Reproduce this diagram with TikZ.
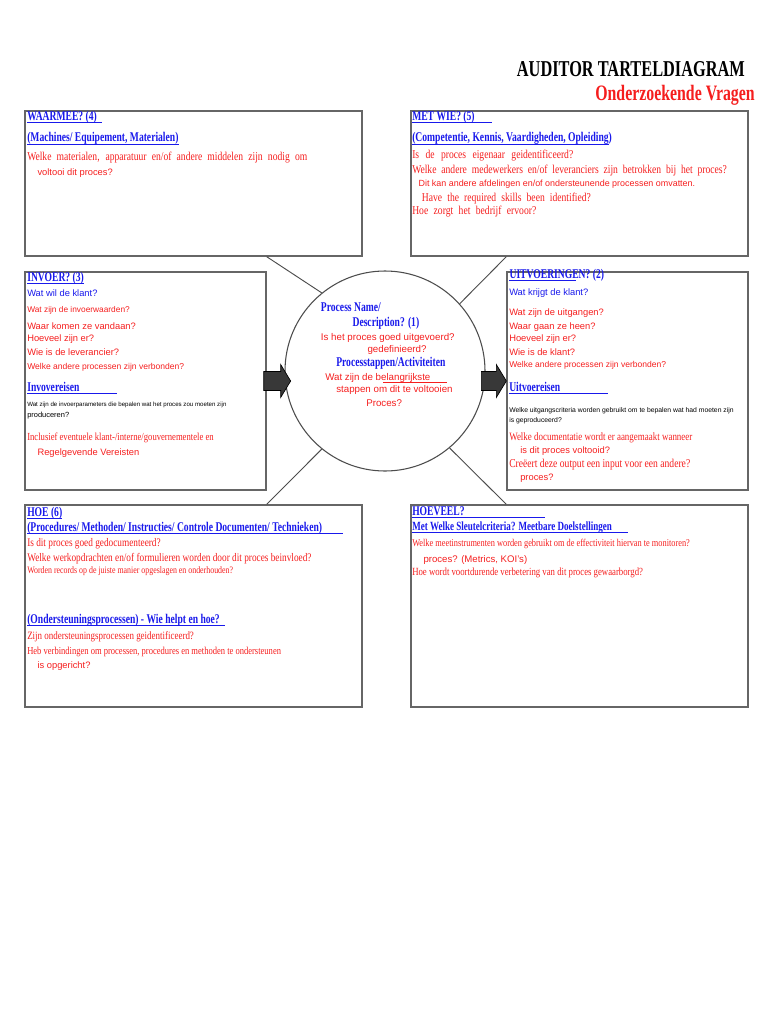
\documentclass[tikz,border=0pt]{standalone}
\usepackage{fontspec}
\setmainfont{Liberation Serif}
\setsansfont{Liberation Sans}
\newfontfamily\smalserif[FakeStretch=0.8]{Liberation Serif}
\newfontfamily\kopserif[FakeStretch=0.72]{Liberation Serif}
\usepackage{xcolor}
\usetikzlibrary{calc}
\definecolor{vraagblauw}{RGB}{25,25,235}
\definecolor{vraagrood}{RGB}{245,30,30}
\newcommand{\grootte}[1]{%
    \fontsize{#1}{#1}\selectfont
}
\tikzset{
    vak/.style={draw=black!60, line width=1pt, inner sep=0pt},
    proces/.style={circle, draw=black!70, line width=0.8pt, inner sep=0pt},
    lijn/.style={draw=black!70, line width=0.7pt},
    pijl/.style={draw=black, fill=black!78, line width=0.5pt},
    onder/.style={draw=vraagblauw, line width=0.7pt},
    tekst/.style={anchor=base west, inner sep=0pt},
    kopb/.style={tekst, text=vraagblauw, font=\kopserif\bfseries\grootte{#1}},
    kopb/.default=10,
    rq/.style={tekst, text=vraagrood, font=\smalserif\grootte{#1}},
    rq/.default=8.7,
    rs/.style={tekst, text=vraagrood, font=\sffamily\grootte{#1}},
    rs/.default=7,
    bs/.style={tekst, text=vraagblauw, font=\sffamily\grootte{7}},
    klein/.style={tekst, text=black, font=\sffamily\grootte{#1}},
    klein/.default=4.8
}

\begin{document}
\begin{tikzpicture}[x=0.75pt,y=0.75pt,yscale=-1,xscale=1]
                \useasboundingbox (0,0) rectangle (768,1024);

                % Boxes
                \node[vak, minimum width=252.75pt, minimum height=108.75pt] (waar) at (193.5,183.5) {};
                \node[vak, minimum width=252.75pt, minimum height=108.75pt] (metwie) at (579.5,183.5) {};
                \node[vak, minimum width=180.75pt, minimum height=163.5pt] (invoer) at (145.5,381) {};
                \node[vak, minimum width=180.75pt, minimum height=163.5pt] (uitvoer) at (627.5,381) {};
                \node[vak, minimum width=252.75pt, minimum height=151.5pt] (hoe) at (193.5,606) {};
                \node[vak, minimum width=252.75pt, minimum height=151.5pt] (hoeveel) at (579.5,606) {};
                \node[proces, minimum size=150pt] (proc) at (385,371) {};

                \draw[lijn] (waar.south -| invoer.east) -- (proc.129);
                \draw[lijn] (metwie.south -| uitvoer.west) -- (proc.42);
                \draw[lijn] (hoe.north -| invoer.east) -- (proc.231);
                \draw[lijn] (hoeveel.north -| uitvoer.west) -- (proc.310);

                \draw[pijl] (invoer.east) ++(-3,-9.5) -- ++(17,0) -- ++(0,-7) -- ++(10,16.5) -- ++(-10,16.5) -- ++(0,-7) -- ++(-17,0) -- cycle;
                \draw[pijl] (uitvoer.west) ++(-25,-9.5) -- ++(15,0) -- ++(0,-7) -- ++(10,16.5) -- ++(-10,16.5) -- ++(0,-7) -- ++(-15,0) -- cycle;

                % Title
                \draw (745,77) node [anchor=base east][inner sep=0pt][font=\kopserif\bfseries\grootte{17}] (titel) {AUDITOR TARTELDIAGRAM};
                \draw (755,100) node [anchor=base east][inner sep=0pt][text=vraagrood, font=\kopserif\bfseries\grootte{16.5}] (subtitel) {Onderzoekende Vragen};

                % Text Node
                \draw (27,120) node [kopb] (waarH) {WAARMEE? (4)};
                \draw[onder] ($(waarH.base west)+(0,2)$) -- ++(75,0);
                % Text Node
                \draw (27,142) node [kopb] (waarS) {(Machines/ Equipement, Materialen)};
                \draw[onder] ($(waarS.base west)+(0,2)$) -- ($(waarS.base east)+(0,2)$);
                % Text Node
                \draw (27,160) node [rq=9] (waarQ) {\makebox[210pt][s]{Welke materialen, apparatuur en/of andere middelen zijn nodig om}};
                % Text Node
                \draw (37.3,175) node [rs] (waarR) {voltooi dit proces?};

                % Text Node
                \draw (412,120) node [kopb] (metH) {MET WIE? (5)};
                \draw[onder] ($(metH.base west)+(0,2)$) -- ++(80,0);
                % Text Node
                \draw (412,142) node [kopb] (metS) {(Competentie, Kennis, Vaardigheden, Opleiding)};
                \draw[onder] ($(metS.base west)+(0,2)$) -- ++(197,0);
                % Text Node
                \draw (412,158) node [rq=9] (metQa) {\makebox[120.75pt][s]{Is de proces eigenaar geidentificeerd?}};
                % Text Node
                \draw (412,173) node [rq=9] (metQb) {\makebox[236pt][s]{Welke andere medewerkers en/of leveranciers zijn betrokken bij het proces?}};
                % Text Node
                \draw (418.3,186.7) node [rs=6.7] (metR) {Dit kan andere afdelingen en/of ondersteunende processen omvatten.};
                % Text Node
                \draw (421.7,201.7) node [rq=9] (metQc) {\makebox[126.75pt][s]{Have the required skills been identified?}};
                % Text Node
                \draw (412,214) node [rq=9] (metQd) {\makebox[93pt][s]{Hoe zorgt het bedrijf ervoor?}};

                % Text Node
                \draw (27,281.7) node [kopb] (invH) {INVOER? (3)};
                \draw[onder] ($(invH.base west)+(0,2)$) -- ($(invH.base east)+(0,2)$);
                % Text Node
                \draw (27,296.7) node [bs] (invK) {Wat wil de klant?};
                % Text Node
                \draw (27,312.3) node [rs=6.25] (invA) {Wat zijn de invoerwaarden?};
                % Text Node
                \draw (27,329) node [rs] (invB) {Waar komen ze vandaan?};
                % Text Node
                \draw (27,341.7) node [rs] (invC) {Hoeveel zijn er?};
                % Text Node
                \draw (27,355.7) node [rs] (invD) {Wie is de leverancier?};
                % Text Node
                \draw (27,369) node [rs=6.4] (invV) {Welke andere processen zijn verbonden?};
                % Text Node
                \draw (27,391.7) node [kopb] (invE) {Invovereisen};
                \draw[onder] ($(invE.base west)+(0,2)$) -- ++(90,0);
                % Text Node
                \draw (27,406.7) node [klein=4.6] (invT) {Wat zijn de invoerparameters die bepalen wat het proces zou moeten zijn};
                % Text Node
                \draw (27,417.7) node [klein=5.6] (invP) {produceren?};
                % Text Node
                \draw (27,440) node [rq=8.1] (invQ) {Inclusief eventuele klant-/interne/gouvernementele en};
                % Text Node
                \draw (37.3,455) node [rs] (invR) {Regelgevende Vereisten};

                % Text Node
                \draw (509.3,278.3) node [kopb] (uitH) {UITVOERINGEN? (2)};
                \draw[onder] ($(uitH.base west)+(0,2)$) -- ++(67,0);
                % Text Node
                \draw (509,295.7) node [bs] (uitK) {Wat krijgt de klant?};
                % Text Node
                \draw (509,315.7) node [rs] (uitA) {Wat zijn de uitgangen?};
                % Text Node
                \draw (509,329) node [rs] (uitB) {Waar gaan ze heen?};
                % Text Node
                \draw (509,341) node [rs] (uitC) {Hoeveel zijn er?};
                % Text Node
                \draw (509,355) node [rs] (uitD) {Wie is de klant?};
                % Text Node
                \draw (509,367.7) node [rs=6.4] (uitV) {Welke andere processen zijn verbonden?};
                % Text Node
                \draw (509,391.7) node [kopb] (uitE) {Uitvoereisen};
                \draw[onder] ($(uitE.base west)+(0,2)$) -- ++(99,0);
                % Text Node
                \draw (509,412.3) node [klein=5.1] (uitT) {Welke uitgangscriteria worden gebruikt om te bepalen wat had moeten zijn};
                % Text Node
                \draw (509,422.3) node [klein=5.1] (uitT2) {is geproduceerd?};
                % Text Node
                \draw (509,440) node [rq=8.4] (uitQ) {Welke documentatie wordt er aangemaakt wanneer};
                % Text Node
                \draw (520,453.3) node [rs] (uitR) {is dit proces voltooid?};
                % Text Node
                \draw (509,467.7) node [rq=9] (uitQ2) {Creëert deze output een input voor een andere?};
                % Text Node
                \draw (520,480) node [rs] (uitR2) {proces?};

                % Text Node
                \draw (320.7,311.7) node [kopb] (cirA) {Process Name/};
                % Text Node
                \draw (352.3,326) node [kopb] (cirB) {Description? (1)};
                % Text Node
                \draw (320.7,340) node [rs=7.3] (cirC) {Is het proces goed uitgevoerd?};
                % Text Node
                \draw (367.3,352.7) node [rs=7.3] (cirD) {gedefinieerd?};
                % Text Node
                \draw (336,366) node [kopb] (cirE) {Processtappen/Activiteiten};
                % Text Node
                \draw (325,380) node [rs=7.3] (cirF) {Wat zijn de belangrijkste};
                \draw[vraagrood, line width=0.7pt] ($(cirF.base west)+(58,2.5)$) -- ++(64,0);
                % Text Node
                \draw (336,392.7) node [rs=7.3] (cirG) {stappen om dit te voltooien};
                % Text Node
                \draw (366,406) node [rs=7.3] (cirH) {Proces?};

                % Text Node
                \draw (27,516) node [kopb] (hoeH) {HOE (6)};
                \draw[onder] ($(hoeH.base west)+(0,2)$) -- ($(hoeH.base east)+(0,2)$);
                % Text Node
                \draw (27,531) node [kopb] (hoeS) {(Procedures/ Methoden/ Instructies/ Controle Documenten/ Technieken)};
                \draw[onder] ($(hoeS.base west)+(0,2)$) -- ++(316,0);
                % Text Node
                \draw (27,546.7) node [rq] (hoeQa) {Is dit proces goed gedocumenteerd?};
                % Text Node
                \draw (27,561) node [rq] (hoeQb) {Welke werkopdrachten en/of formulieren worden door dit proces beinvloed?};
                % Text Node
                \draw (27,573.3) node [rq=7.4] (hoeQc) {Worden records op de juiste manier opgeslagen en onderhouden?};
                % Text Node
                \draw (27,623.3) node [kopb] (hoeO) {(Ondersteuningsprocessen) - Wie helpt en hoe?};
                \draw[onder] ($(hoeO.base west)+(0,2)$) -- ++(198,0);
                % Text Node
                \draw (27,639.3) node [rq=8.4] (hoeQd) {Zijn ondersteuningsprocessen geidentificeerd?};
                % Text Node
                \draw (27,654) node [rq=8] (hoeQe) {Heb verbindingen om processen, procedures en methoden te ondersteunen};
                % Text Node
                \draw (37.3,668.3) node [rs] (hoeR) {is opgericht?};

                % Text Node
                \draw (412,515) node [kopb] (hvH) {HOEVEEL?};
                \draw[onder] ($(hvH.base west)+(0,2)$) -- ++(133,0);
                % Text Node
                \draw (412,530) node [kopb=9.4] (hvS) {Met Welke Sleutelcriteria? Meetbare Doelstellingen};
                \draw[onder] ($(hvS.base west)+(0,2)$) -- ++(216,0);
                % Text Node
                \draw (412,546.7) node [rq=7.8] (hvQa) {Welke meetinstrumenten worden gebruikt om de effectiviteit hiervan te monitoren?};
                % Text Node
                \draw (423.3,562.7) node [rs=7.2] (hvR) {proces? (Metrics, KOI's)};
                % Text Node
                \draw (412,575) node [rq=8.2] (hvQb) {Hoe wordt voortdurende verbetering van dit proces gewaarborgd?};
\end{tikzpicture}
\end{document}
